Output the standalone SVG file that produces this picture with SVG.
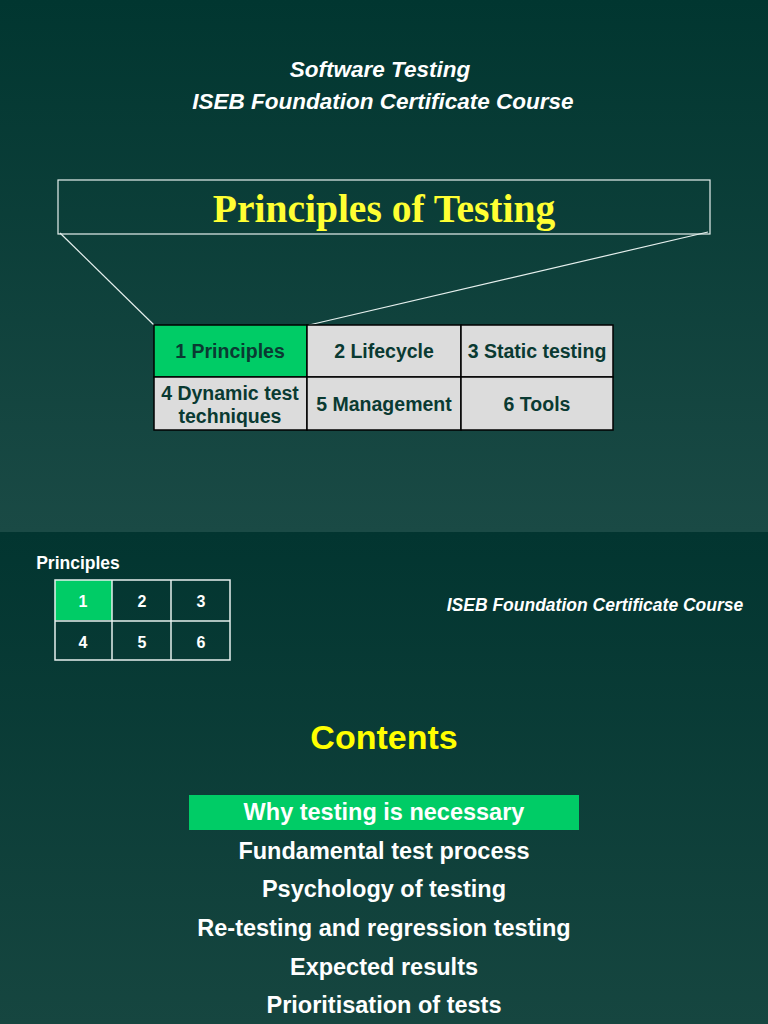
<svg xmlns="http://www.w3.org/2000/svg" width="768" height="1024" viewBox="0 0 768 1024">
<defs>
<linearGradient id="g1" x1="0" y1="0" x2="0" y2="1"><stop offset="0" stop-color="#013630"/><stop offset="1" stop-color="#1a4a45"/></linearGradient>
<linearGradient id="g2" x1="0" y1="0" x2="0" y2="1"><stop offset="0" stop-color="#023530"/><stop offset="1" stop-color="#164640"/></linearGradient>
<style>
.w{font-family:"Liberation Sans",Arial,sans-serif;font-weight:bold;fill:#fff;text-anchor:middle}
.d{font-family:"Liberation Sans",Arial,sans-serif;font-weight:bold;fill:#0a3a32;font-size:19.5px;text-anchor:middle}
.c{fill:#dcdcdc;stroke:#000;stroke-width:1.5}
.s{fill:none;stroke:#e6f0ee;stroke-width:1.5}
</style>
</defs>
<rect x="0" y="0" width="768" height="532" fill="url(#g1)"/>
<rect x="0" y="532" width="768" height="492" fill="url(#g2)"/>
<text class="w" x="380" y="77" font-size="22.5" font-style="italic">Software Testing</text>
<text class="w" x="383" y="109" font-size="22.5" font-style="italic">ISEB Foundation Certificate Course</text>
<g id="title"><rect x="58" y="180" width="652" height="54" fill="none" stroke="#e6f0ee" stroke-width="1.2"/>
<text x="384" y="222" font-family="Liberation Serif,serif" font-weight="bold" font-size="39.5" fill="#ffff33" text-anchor="middle">Principles of Testing</text></g>
<g id="connectors" stroke="#e6f0ee" stroke-width="1.2"><line x1="60" y1="233" x2="154" y2="325"/><line x1="708" y1="232" x2="309" y2="325"/></g>
<g id="t1"><rect x="154" y="325" width="153" height="52" fill="#00cc66" stroke="#000" stroke-width="1.5"/><text class="d" x="230" y="358">1 Principles</text></g>
<g id="t2"><rect class="c" x="307" y="325" width="154" height="52"/><text class="d" x="384" y="358">2 Lifecycle</text></g>
<g id="t3"><rect class="c" x="461" y="325" width="152" height="52"/><text class="d" x="537" y="358">3 Static testing</text></g>
<g id="t4"><rect class="c" x="154" y="377" width="153" height="53"/><text class="d" x="230" y="400">4 Dynamic test</text><text class="d" x="230" y="423">techniques</text></g>
<g id="t5"><rect class="c" x="307" y="377" width="154" height="53"/><text class="d" x="384" y="411">5 Management</text></g>
<g id="t6"><rect class="c" x="461" y="377" width="152" height="53"/><text class="d" x="537" y="411">6 Tools</text></g>
<text class="w" x="78" y="569" font-size="17.5">Principles</text>
<g id="mini">
<rect x="55" y="580" width="57" height="40" fill="#00cc66"/>
<rect class="s" x="55" y="580" width="175" height="80"/>
<line class="s" x1="112" y1="580" x2="112" y2="660"/><line class="s" x1="171" y1="580" x2="171" y2="660"/><line class="s" x1="55" y1="621" x2="230" y2="621"/>
<text class="w" x="83" y="607" font-size="16">1</text><text class="w" x="142" y="607" font-size="16">2</text><text class="w" x="201" y="607" font-size="16">3</text>
<text class="w" x="83" y="648" font-size="16">4</text><text class="w" x="142" y="648" font-size="16">5</text><text class="w" x="201" y="648" font-size="16">6</text>
</g>
<text class="w" x="595" y="611" font-size="17.5" font-style="italic">ISEB Foundation Certificate Course</text>
<text x="384" y="749" font-family="Liberation Sans,Arial,sans-serif" font-weight="bold" font-size="34" fill="#ffff00" text-anchor="middle">Contents</text>
<rect x="189" y="795" width="390" height="35" fill="#00cc66"/>
<g font-size="23.5">
<text class="w" x="384" y="820">Why testing is necessary</text>
<text class="w" x="384" y="859">Fundamental test process</text>
<text class="w" x="384" y="897">Psychology of testing</text>
<text class="w" x="384" y="936">Re-testing and regression testing</text>
<text class="w" x="384" y="975">Expected results</text>
<text class="w" x="384" y="1013">Prioritisation of tests</text>
</g>
</svg>
